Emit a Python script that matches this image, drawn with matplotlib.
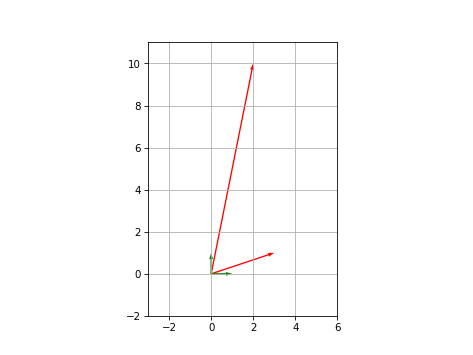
import numpy as np
import matplotlib
matplotlib.use("Agg")
import matplotlib.pyplot as plt

# vectors drawn from the origin
vec_x = [3, 2]
vec_y = [1, 10]
basis_x = [1, 0]
basis_y = [0, 1]

fig, ax = plt.subplots(figsize=(6.4, 4.8), dpi=74)
ax.quiver([0, 0], [0, 0], vec_x, vec_y, color='red', width=0.007,
          angles='xy', scale_units='xy', scale=1)
ax.quiver([0, 0], [0, 0], basis_x, basis_y, color='green', width=0.007,
          angles='xy', scale_units='xy', scale=1)
ax.set_xlim(-3, 6)
ax.set_ylim(-2, 11)
ax.set_aspect('equal')
ax.grid()

plt.savefig('out.png')
